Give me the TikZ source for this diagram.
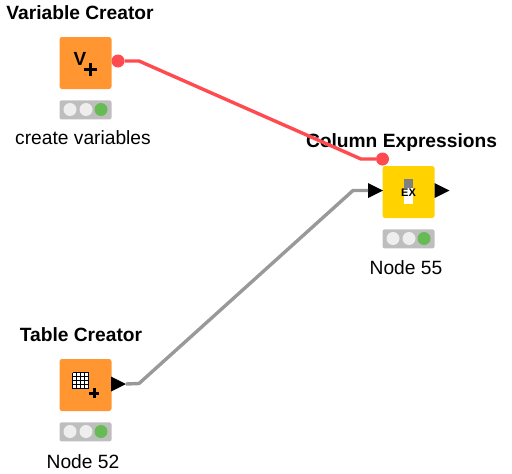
\documentclass[tikz,border=0pt]{standalone}
\usepackage{fontspec}
\setmainfont{Liberation Sans}
\usetikzlibrary{positioning, calc}
\definecolor{nodeorange}{RGB}{255,150,50}
\definecolor{nodeyellow}{RGB}{255,210,0}
\definecolor{linkred}{RGB}{255,75,80}
\definecolor{linkgray}{RGB}{153,153,153}
\definecolor{lampbox}{RGB}{190,190,190}
\definecolor{lampoff}{RGB}{238,238,238}
\definecolor{lampgreen}{RGB}{102,187,85}

\begin{document}
\begin{tikzpicture}[
    x=1pt, y=-1pt,
    box/.style={rounded corners=2.5pt, minimum size=52pt, inner sep=0pt},
    lights/.style={fill=lampbox, rounded corners=2pt, minimum width=52pt, minimum height=19pt, inner sep=0pt},
    lamp/.style={circle, fill=lampoff, minimum size=13pt, inner sep=0pt},
    title/.style={font=\fontsize{19.2}{21}\selectfont\bfseries},
    caption/.style={font=\fontsize{19.2}{21}\selectfont},
    varport/.style={circle, fill=linkred, minimum size=13pt, inner sep=0pt},
    redlink/.style={line width=3.4pt, linkred, line join=round},
    graylink/.style={line width=3.4pt, linkgray, line join=round}
  ]
    \useasboundingbox (0,0) rectangle (512,474);

    %% Node 1: Variable Creator
    \node[title] (vartitle) at (80,13) {Variable Creator};
    \node[box, fill=nodeorange] (var) at (85.5,63) {};
    \node[font=\fontsize{19}{20}\selectfont\bfseries, inner sep=0pt] (varv) at (80,59) {V};
    \draw[line width=3.4pt] (90.5,63) -- (90.5,76) (84,69.5) -- (97,69.5);
    \node[lights, below=11pt of var] (varlights) {};
    \node[lamp] (varl1) at (70,109.5) {};
    \node[lamp] (varl2) at (86,109.5) {};
    \node[lamp, fill=lampgreen] (varl3) at (101,109.5) {};
    \node[caption] (varname) at (83,138) {create variables};
    \node[varport] (varout) at (118,61) {};

    %% Node 2: Column Expressions
    \node[title] (exprtitle) at (401.5,143) {Column Expressions};
    \node[box, fill=nodeyellow] (expr) at (408.5,192) {};
    \fill[white] (404,179) rectangle (413,204);
    \fill[gray] (404,179) rectangle (413,188);
    \node[font=\fontsize{11}{11}\selectfont\bfseries, inner sep=0pt] (exprex) at (408.5,192.5) {EX};
    \node[lights, below=11pt of expr] (exprlights) {};
    \node[lamp] (exprl1) at (393,238.5) {};
    \node[lamp] (exprl2) at (409,238.5) {};
    \node[lamp, fill=lampgreen] (exprl3) at (424,238.5) {};
    \node[caption] (exprname) at (406,268) {Node 55};
    \node[varport] (exprvar) at (382.5,159) {};
    \coordinate (exprin) at (368,190.5);
    \coordinate (exprout) at (434.5,190.5);
    \fill (exprin) ++(0,-7.5) -- ++(15,7.5) -- ++(-15,7.5) -- cycle;
    \fill (exprout) ++(0,-7.5) -- ++(15,7.5) -- ++(-15,7.5) -- cycle;

    %% Node 3: Table Creator
    \node[title] (tabtitle) at (81,335) {Table Creator};
    \node[box, fill=nodeorange] (tab) at (85.5,385) {};
    \fill[white] (72.75,372.75) rectangle (88.75,388.75);
    \foreach \k in {0,4,8,12,16} {
      \draw[line width=1.1pt] (72.75+\k,372.75) -- (72.75+\k,388.75);
      \draw[line width=1.1pt] (72.75,372.75+\k) -- (88.75,372.75+\k);
    }
    \draw[line width=3pt] (94,388) -- (94,398) (89,393) -- (99,393);
    \node[lights, below=11pt of tab] (tablights) {};
    \node[lamp] (tabl1) at (70,431.5) {};
    \node[lamp] (tabl2) at (86,431.5) {};
    \node[lamp, fill=lampgreen] (tabl3) at (101,431.5) {};
    \node[caption] (tabname) at (83,462) {Node 52};
    \coordinate (tabout) at (111,384);
    \fill (tabout) ++(0,-7.5) -- ++(15,7.5) -- ++(-15,7.5) -- cycle;

    %% Connections
    \draw[redlink] (varout) -- (139,61) -- (361,159) -- (exprvar);
    \draw[graylink] (tabout) ++(15,0) -- (139,383.5) -- (353,190.5) -- (exprin);
\end{tikzpicture}
\end{document}
